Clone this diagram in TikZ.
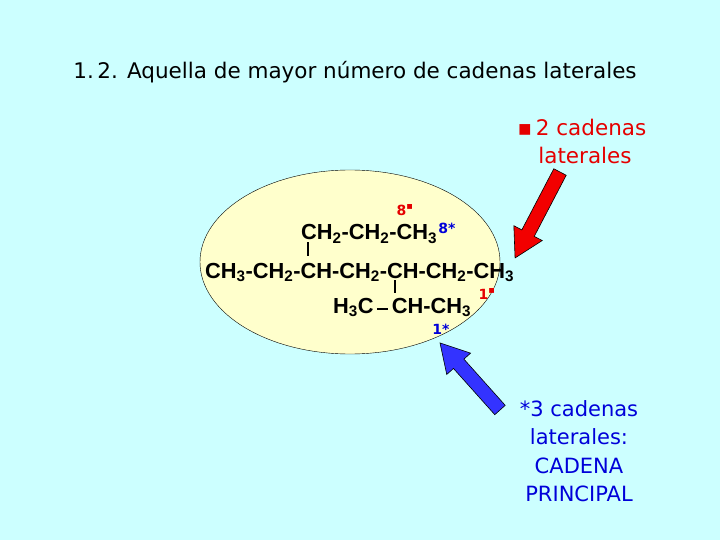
\documentclass[tikz,border=0pt]{standalone}
\usepackage{fontspec}
\setmainfont{DejaVu Sans}
\newfontfamily\arialb{Liberation Sans}
\definecolor{bg}{HTML}{CCFFFF}
\definecolor{ell}{HTML}{FFFFCC}
\begin{document}
\begin{tikzpicture}[x=1pt,y=1pt,
  chem/.style={font=\arialb\bfseries\fontsize{21.8}{20}\selectfont,inner sep=0pt,anchor=base west},
  redl/.style={font=\fontsize{14}{14}\selectfont\bfseries,text=red!90!black,inner sep=0pt},
  bluel/.style={font=\fontsize{14}{14}\selectfont\bfseries,text=blue!85!black,inner sep=0pt},
  side/.style={font=\fontsize{21.5}{22}\selectfont,inner sep=0pt}]
\fill[bg] (0,0) rectangle (720,-540);
\useasboundingbox (0,0) rectangle (720,-540);
\node[font=\fontsize{21.5}{22}\selectfont] (title) at (355,-72) {1.\,2. Aquella de mayor número de cadenas laterales};
\draw[fill=ell,thin] (350,-262) ellipse [x radius=150,y radius=92];
\node[chem] (r1) at (301,-240) {CH\textsubscript{2}-CH\textsubscript{2}-CH\textsubscript{3}};
\node[chem] (r2) at (205,-278) {CH\textsubscript{3}-CH\textsubscript{2}-CH-CH\textsubscript{2}-CH-CH\textsubscript{2}-CH\textsubscript{3}};
\node[chem] (r3) at (333,-313) {H\textsubscript{3}C\,{\rule[0.3ex]{0.5em}{1.5pt}}\,CH-CH\textsubscript{3}};
\draw[line width=2.2pt] (308,-242)--(308,-256);
\draw[line width=2.2pt] (395,-280)--(395,-293);
\node[redl] (l8s) at (405,-210) {8\textsuperscript{▪}};
\node[bluel] (l8a) at (447,-228) {8*};
\node[redl] (l1s) at (487,-294) {1\textsuperscript{▪}};
\node[bluel] (l1a) at (441,-329) {1*};
\node[side,text=red!90!black] (t1) at (582,-127) {▪\,2 cadenas};
\node[side,text=red!90!black] (t2) at (585,-155) {laterales};
\node[side,text=blue!85!black,align=center,font=\fontsize{21}{28.5}\selectfont] (t3) at (579,-451) {*3 cadenas\\laterales:\\CADENA\\PRINCIPAL};
\begin{scope}[shift={(560,-172)},rotate=-117.6]
\draw[fill=red!95!black,line width=0.6pt] (0,-7)--(69,-7)--(69,-16)--(97,0)--(69,16)--(69,7)--(0,7)--cycle;
\end{scope}
\begin{scope}[shift={(500,-410)},rotate=131.8]
\draw[fill=blue!80!white,line width=0.6pt] (0,-7)--(62,-7)--(62,-16)--(90,0)--(62,16)--(62,7)--(0,7)--cycle;
\end{scope}
\end{tikzpicture}
\end{document}
